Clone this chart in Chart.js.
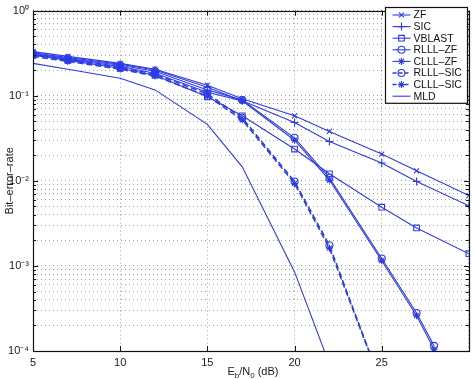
<!DOCTYPE html>
<html><head><meta charset="utf-8">
<script src="https://cdn.jsdelivr.net/npm/chart.js@4.4.0/dist/chart.umd.min.js"></script>
<style>html,body{margin:0;padding:0;background:#fff;}#wrap{width:474px;height:379px;position:relative;}</style>
</head><body><div id="wrap"><canvas id="c"></canvas></div>
<script>
// ---- data ----
const snrMain = [5,7,10,12,15,17,20,22,25,27,30];
const berZF = [0.33,0.29,0.24,0.205,0.133,0.092,0.058,0.038,0.0206,0.0131,0.0067];
const berSIC = [0.32,0.28,0.234,0.2,0.126,0.087,0.0484,0.029,0.0162,0.0098,0.0051];
const berVBLAST = [0.30,0.26,0.21,0.174,0.097,0.058,0.0236,0.0121,0.0049,0.00279,0.00139];
const snrLLLZF = [5,7,10,12,15,17,20,22,25,27,28];
const berRLLLZF = [0.313,0.274,0.228,0.194,0.117,0.089,0.032,0.0108,0.00122,0.00028,0.000115];
const berCLLLZF = [0.305,0.267,0.22,0.184,0.11,0.087,0.030,0.0102,0.00115,0.00026,0.000105];
const snrLLLSIC = [5,7,10,12,15,17,20,22,25];
const berRLLLSIC = [0.305,0.267,0.215,0.179,0.105,0.055,0.0098,0.00175,0.00004];
const berCLLLSIC = [0.29,0.253,0.205,0.17,0.099,0.052,0.0093,0.00162,0.00004];
const snrMLD = [5,7,10,12,15,17,20,22];
const berMLD = [0.24,0.205,0.16,0.117,0.046,0.0146,0.00085,0.00007];
const seriesNames = ['ZF','SIC','VBLAST','RLLL\u2013ZF','CLLL\u2013ZF','RLLL\u2013SIC','CLLL\u2013SIC','MLD'];
const xTicks = [5,10,15,20,25,30];
const xTickLabels = ['5','10','15','20','25',''];
const yDecades = [1e-4,1e-3,1e-2,1e-1,1];
const yDecadeLabels = ['10\u207B\u2074','10\u207B\u00B3','10\u207B\u00B2','10\u207B\u00B9','10\u2070'];

// ---- build ----
const BLUE = 'rgb(45,60,228)';
function pts(xs, ys){ return xs.map((x,i)=>({x:x,y:ys[i]})); }
function ds(label, xs, ys, style, radius, dash){
  return {label:label, data:pts(xs,ys), borderColor:BLUE, borderWidth:dash?1.5:1.1,
    borderDash:dash||[], pointStyle:style||false, pointRadius:style?radius:0,
    pointBorderColor:BLUE, pointBackgroundColor:'rgba(0,0,0,0)', pointBorderWidth:1.1,
    pointHoverRadius:style?radius:0, tension:0, fill:false};
}
const datasets = [
  ds(seriesNames[0], snrMain, berZF, 'crossRot', 3.5),
  ds(seriesNames[1], snrMain, berSIC, 'cross', 4),
  ds(seriesNames[2], snrMain, berVBLAST, 'rect', 4),
  ds(seriesNames[3], snrLLLZF, berRLLLZF, 'circle', 3.5),
  ds(seriesNames[4], snrLLLZF, berCLLLZF, 'star', 3.5),
  ds(seriesNames[5], snrLLLSIC, berRLLLSIC, 'circle', 3.5, [6,3]),
  ds(seriesNames[6], snrLLLSIC, berCLLLSIC, 'star', 3.5, [6,3]),
  ds(seriesNames[7], snrMLD, berMLD, false, 0)
];
const yTickVals = [];
for (let e=-4;e<0;e++){ for(let m=1;m<10;m++){ yTickVals.push(m*Math.pow(10,e)); } }
yTickVals.push(1);

const FONT = 'Liberation Sans, Arial, Helvetica, sans-serif';
Chart.defaults.font.family = FONT;
Chart.defaults.font.size = 11;
Chart.defaults.color = '#1a1a1a';

const decorPlugin = {
  id:'decor',
  afterDatasetsDraw(chart){
    const ctx = chart.ctx, a = chart.chartArea;
    const xs = chart.scales.x, ys = chart.scales.y;
    ctx.save();
    ctx.strokeStyle = '#111'; ctx.lineWidth = 1;
    ctx.setLineDash([]);
    ctx.beginPath();
    yTickVals.forEach(v=>{
      const y = Math.round(ys.getPixelForValue(v))+0.5;
      const isMaj = yDecades.some(d=>Math.abs(Math.log10(d)-Math.log10(v))<1e-9);
      const L = isMaj?5:3;
      ctx.moveTo(a.left, y); ctx.lineTo(a.left+L, y);
      ctx.moveTo(a.right, y); ctx.lineTo(a.right-L, y);
    });
    xTicks.forEach(v=>{
      const x = Math.round(xs.getPixelForValue(v))+0.5;
      ctx.moveTo(x, a.bottom); ctx.lineTo(x, a.bottom-5);
      ctx.moveTo(x, a.top); ctx.lineTo(x, a.top+5);
    });
    ctx.stroke();
    ctx.lineWidth = 1.2;
    ctx.strokeRect(Math.round(a.left)+0.5, Math.round(a.top)+0.5, Math.round(a.right-a.left), Math.round(a.bottom-a.top));
    ctx.restore();
  },
  afterDraw(chart){
    const ctx = chart.ctx, a = chart.chartArea;
    ctx.save();
    ctx.fillStyle = '#1a1a1a';
    ctx.textBaseline = 'alphabetic';
    const parts = [['E',0,11],['b',3,8],['/N',0,11],['0',3,8],[' (dB)',0,11]];
    let w = 0;
    parts.forEach(p=>{ ctx.font = p[2]+'px '+FONT; w += ctx.measureText(p[0]).width; });
    let x = (a.left+a.right)/2 - w/2 + 2;
    const by = 375;
    parts.forEach(p=>{ ctx.font = p[2]+'px '+FONT; ctx.fillText(p[0], x, by+p[1]); x += ctx.measureText(p[0]).width; });
    ctx.save();
    ctx.translate(10, (a.top+a.bottom)/2);
    ctx.rotate(-Math.PI/2);
    ctx.font = '11px '+FONT; ctx.textAlign='center'; ctx.textBaseline='middle';
    ctx.fillText('Bit\u2013error\u2013rate', 0, 0);
    ctx.restore();
    // legend
    const bx = 385.5, bwid = 82, top = 7.5, rowH = 11.6, n = chart.data.datasets.length;
    const bh = rowH*n + 3;
    ctx.fillStyle = '#fff';
    ctx.fillRect(bx, top, bwid, bh);
    ctx.strokeStyle = '#111'; ctx.lineWidth = 1.2; ctx.setLineDash([]);
    ctx.strokeRect(bx, top, bwid, bh);
    chart.data.datasets.forEach((d,i)=>{
      const y = top + 7.5 + i*rowH;
      ctx.strokeStyle = d.borderColor; ctx.lineWidth = d.borderWidth;
      ctx.setLineDash(d.borderDash && d.borderDash.length ? [4,2] : []);
      ctx.beginPath(); ctx.moveTo(bx+7, y); ctx.lineTo(bx+25, y); ctx.stroke();
      ctx.setLineDash([]);
      if (d.pointStyle){
        ctx.fillStyle = 'rgba(0,0,0,0)';
        ctx.strokeStyle = d.borderColor; ctx.lineWidth = d.pointBorderWidth;
        Chart.helpers.drawPoint(ctx, {pointStyle:d.pointStyle, radius:d.pointRadius, rotation:0, borderWidth:d.pointBorderWidth}, bx+16, y);
      }
      ctx.fillStyle = '#111';
      ctx.font = '10.5px '+FONT; ctx.textAlign='left'; ctx.textBaseline='middle';
      ctx.fillText(d.label, bx+28, y+0.5);
    });
    ctx.restore();
  }
};

new Chart(document.getElementById('c'), {
  type:'line',
  data:{datasets:datasets},
  options:{
    responsive:true, maintainAspectRatio:false, animation:false,
    layout:{padding:{top:6,right:5,left:0,bottom:0}},
    plugins:{legend:{display:false}, tooltip:{enabled:false}},
    scales:{
      x:{type:'linear', min:5, max:30,
        afterBuildTicks(s){ s.ticks = xTicks.map(v=>({value:v})); },
        afterFit(s){ s.height = 28; },
        ticks:{autoSkip:false, maxRotation:0, padding:5,
          callback:(v)=>{ const i = xTicks.indexOf(v); return i>=0?xTickLabels[i]:''; }},
        grid:{color:'rgba(0,0,0,0.38)', lineWidth:1, drawTicks:false},
        border:{display:false, dash:[1,3]}
      },
      y:{type:'logarithmic', min:1e-4, max:1,
        afterBuildTicks(s){ s.ticks = yTickVals.map(v=>({value:v})); },
        afterFit(s){ s.width = 33; },
        ticks:{autoSkip:false, padding:4,
          callback:(v)=>{ const i = yDecades.findIndex(d=>Math.abs(Math.log10(d)-Math.log10(v))<1e-9); return i>=0?yDecadeLabels[i]:''; }},
        grid:{color:'rgba(0,0,0,0.38)', lineWidth:1, drawTicks:false},
        border:{display:false, dash:[1,3]}
      }
    }
  },
  plugins:[decorPlugin]
});
</script></body></html>
